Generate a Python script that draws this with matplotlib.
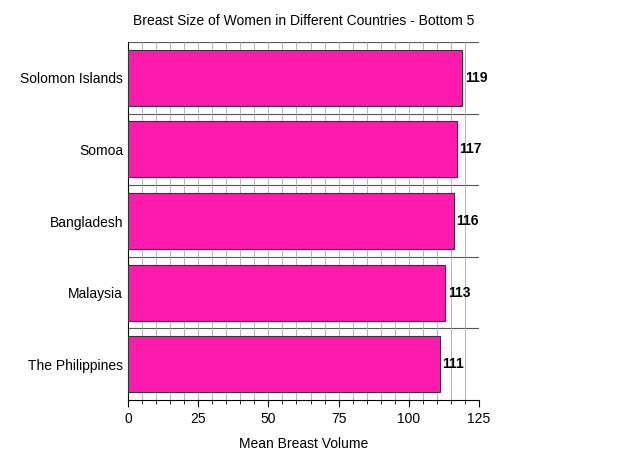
import matplotlib
matplotlib.use("Agg")
import matplotlib.pyplot as plt
import numpy as np

countries = ["Solomon Islands", "Somoa", "Bangladesh", "Malaysia", "The Philippines"]
values = [119, 117, 116, 113, 111]
xticks = [0, 25, 50, 75, 100, 125]

plt.rcParams['font.family'] = ['Liberation Sans', 'DejaVu Sans']
fig = plt.figure(figsize=(6.4, 4.65), dpi=100)
ax = fig.add_axes([128/640, 1-400/465, 351/640, 358/465])
y = np.arange(len(countries))
ax.barh(y, values, height=0.78, color="#FF1AAE", edgecolor="#333333", linewidth=0.8, zorder=3)
for yi, v in zip(y, values):
    ax.text(v + 1, yi, str(v), va="center", ha="left", fontsize=10, fontweight="bold", zorder=4)
ax.set_ylim(len(countries) - 0.5, -0.5)
ax.set_xlim(0, 125)
ax.set_yticks(y)
ax.set_yticklabels(countries, fontsize=10)
ax.set_xticks(xticks)
ax.set_xticks(np.arange(0, 126, 5), minor=True)
ax.tick_params(axis="x", labelsize=10, length=5)
ax.tick_params(axis="x", which="minor", length=3)
ax.tick_params(axis="y", length=0)
ax.grid(axis="x", which="both", color="#aaaaaa", linewidth=0.6, zorder=0)
for b in np.arange(0.5, len(countries) - 0.5, 1):
    ax.axhline(b, color="#555555", linewidth=0.8, zorder=1)
ax.axhline(-0.5, color="#555555", linewidth=0.8, zorder=1)
for s in ["right", "top"]:
    ax.spines[s].set_visible(False)
ax.set_xlabel("Mean Breast Volume", fontsize=10, labelpad=8)
ax.set_title("Breast Size of Women in Different Countries - Bottom 5", fontsize=10, pad=12)
fig.savefig("out.png", dpi=100)
